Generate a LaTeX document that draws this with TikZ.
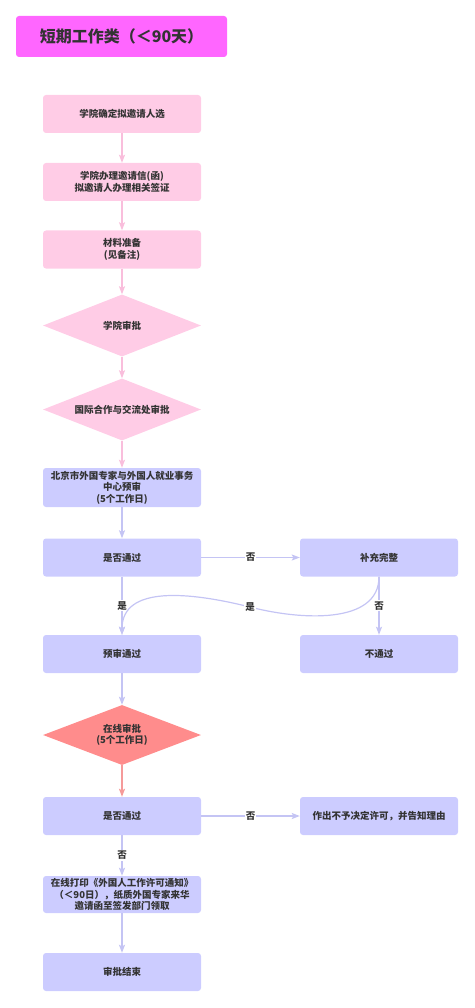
\documentclass[tikz,border=0pt]{standalone}
\usepackage{fontspec}
\setmainfont{Noto Sans CJK SC}
\usetikzlibrary{arrows.meta,shapes.geometric}
\definecolor{titlefill}{HTML}{FF66FF}
\definecolor{pinkfill}{HTML}{FFCCE6}
\definecolor{pinkline}{HTML}{F9BEDC}
\definecolor{purplefill}{HTML}{CCCCFF}
\definecolor{purpleline}{HTML}{C4C4F4}
\definecolor{redfill}{HTML}{FF8C8C}
\definecolor{redline}{HTML}{F59A9A}
\definecolor{txt}{HTML}{333333}
\tikzset{
  x=1pt, y=-1pt,
  box/.style={rectangle, rounded corners=3pt, minimum width=158pt, minimum height=38pt, inner sep=0pt, align=center, text=txt, font=\fontsize{9.5}{11.5}\selectfont\bfseries},
  pinkbox/.style={box, fill=pinkfill},
  purplebox/.style={box, fill=purplefill},
  dia/.style={diamond, shape aspect=2.55, minimum width=158pt, minimum height=62pt, inner sep=0pt, align=center, text=txt, font=\fontsize{9.5}{11.5}\selectfont\bfseries},
  conn/.style={line width=1.2pt, -{Stealth[length=8pt,width=6pt,inset=1.5pt]}},
  pinkarrow/.style={conn, draw=pinkline},
  purplearrow/.style={conn, draw=purpleline},
  redarrow/.style={conn, draw=redline},
  lbl/.style={fill=white, text=txt, inner sep=1pt, font=\fontsize{9.5}{11}\selectfont\bfseries}
}
\begin{document}
\begin{tikzpicture}
\useasboundingbox (0,0) rectangle (474,1008);
\node[rectangle, rounded corners=3pt, fill=titlefill, minimum width=211pt, minimum height=41pt, inner sep=0pt, text=txt, font=\fontsize{16}{18}\selectfont\bfseries] (title) at (121.5,36.5) {短期工作类（＜90天）};

\node[pinkbox] (b1) at (122,114) {学院确定拟邀请人选};
\node[pinkbox] (b2) at (122,182) {学院办理邀请信(函)\\拟邀请人办理相关签证};
\node[pinkbox] (b3) at (122,249.5) {材料准备\\(见备注)};
\node[dia, fill=pinkfill] (d1) at (122,325.5) {学院审批};
\node[dia, fill=pinkfill] (d2) at (122,409.5) {国际合作与交流处审批};
\node[purplebox, minimum height=39pt] (b4) at (122,487.5) {北京市外国专家与外国人就业事务\\中心预审\\(5个工作日)};
\node[purplebox] (b5) at (122,557.5) {是否通过};
\node[purplebox] (b6) at (379,557.5) {补充完整};
\node[purplebox] (b7) at (122,654) {预审通过};
\node[purplebox] (b8) at (379,654) {不通过};
\node[dia, fill=redfill, minimum height=60pt] (d3) at (122,735) {在线审批\\(5个工作日)};
\node[purplebox] (b9) at (122,816) {是否通过};
\node[purplebox] (b10) at (379,816) {作出不予决定许可，并告知理由};
\node[purplebox, minimum height=37pt] (b11) at (122,894.5) {在线打印《外国人工作许可通知》\\（＜90日），纸质外国专家来华\\邀请函至签发部门领取};
\node[purplebox] (b12) at (122,972) {审批结束};

\draw[pinkarrow] (b1) -- (b2);
\draw[pinkarrow] (b2) -- (b3);
\draw[pinkarrow] (b3) -- (d1);
\draw[pinkarrow] (d1) -- (d2);
\draw[pinkarrow] (d2) -- (b4);
\draw[purplearrow] (b4) -- (b5);
\draw[purplearrow] (b5) -- node[lbl] {否} (b6);
\draw[purplearrow] (b5) -- node[lbl] {是} (b7);
\draw[purplearrow] (b6.south) -- node[lbl] {否} (b8);
\draw[purplearrow] (b6.south) .. controls (379,625) and (300,620) .. node[pos=1, lbl] {是} (250,607) .. controls (190,592) and (122,585) .. (b7.north);
\draw[purplearrow] (b7) -- (d3);
\draw[redarrow] (d3) -- (b9);
\draw[purplearrow] (b9) -- node[lbl] {否} (b10);
\draw[purplearrow] (b9) -- node[lbl] {否} (b11);
\draw[purplearrow] (b11) -- (b12);
\end{tikzpicture}
\end{document}
